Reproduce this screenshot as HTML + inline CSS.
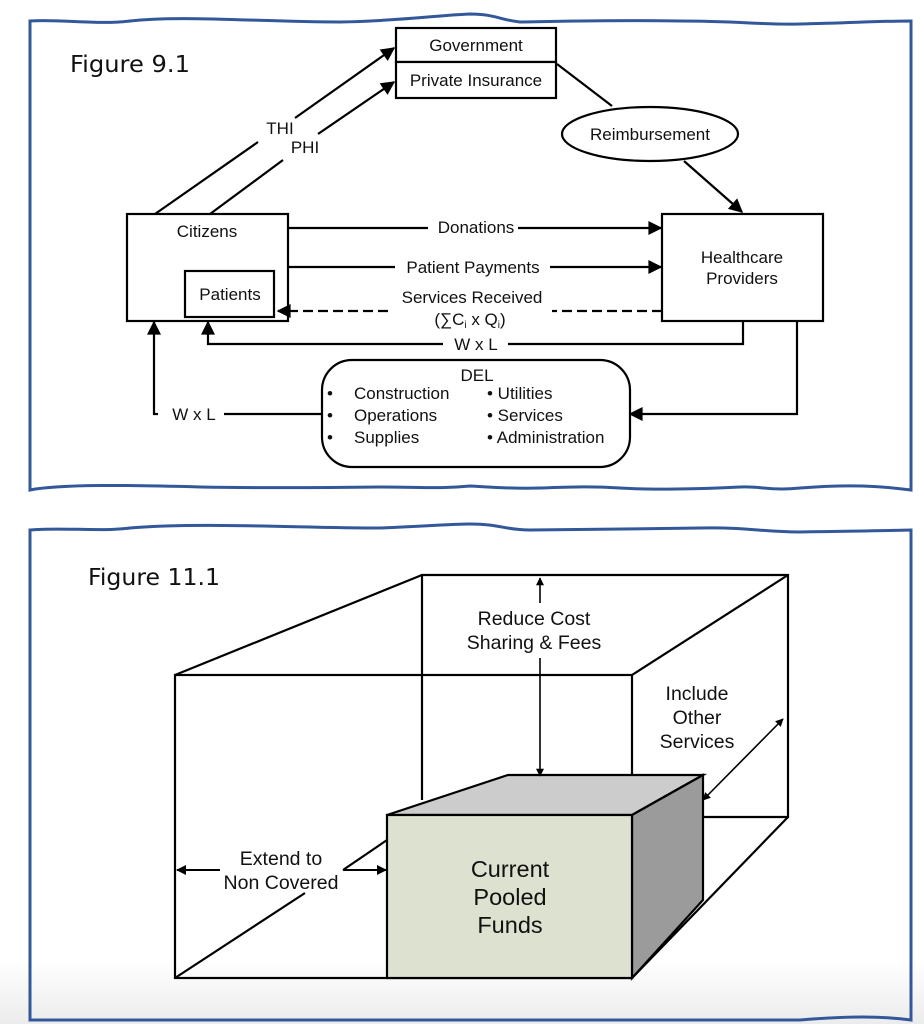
<!DOCTYPE html>
<html><head><meta charset="utf-8"><style>
html,body{margin:0;padding:0;background:#fff}
svg{display:block}
text{font-family:"Liberation Sans",sans-serif;fill:#111}
</style></head><body>
<svg width="924" height="1024" viewBox="0 0 924 1024" xmlns="http://www.w3.org/2000/svg">
<defs>
<linearGradient id="bg" x1="0" y1="0" x2="0" y2="1">
<stop offset="0" stop-color="#fff"/><stop offset="1" stop-color="#ececec"/>
</linearGradient>
<marker id="a" viewBox="0 0 10 10" refX="9" refY="5" markerWidth="10" markerHeight="10" markerUnits="userSpaceOnUse" orient="auto"><path d="M0,0 L10,5 L0,10 z" fill="#000"/></marker>
<marker id="b" viewBox="0 0 10 10" refX="9" refY="5" markerWidth="16" markerHeight="14" markerUnits="userSpaceOnUse" orient="auto"><path d="M0,0 L10,5 L0,10 z" fill="#000"/></marker>
<marker id="s" viewBox="0 0 10 10" refX="9" refY="5" markerWidth="9" markerHeight="8" markerUnits="userSpaceOnUse" orient="auto"><path d="M0,0 L10,5 L0,10 z" fill="#000"/></marker>
<marker id="sr" viewBox="0 0 10 10" refX="1" refY="5" markerWidth="9" markerHeight="8" markerUnits="userSpaceOnUse" orient="auto"><path d="M10,0 L0,5 L10,10 z" fill="#000"/></marker>
</defs>
<rect x="0" y="960" width="924" height="64" fill="url(#bg)"/>
<g fill="none" stroke="#33589a" stroke-width="3">
<path d="M30,21 C60,19 100,25 130,21 C180,15 260,22 340,22 C400,21 440,15 470,14 C495,14 500,20 520,22 C580,21 620,20 680,21 C740,21 760,25 800,24 C850,23 880,21 911,21 L911,490 C880,486 850,484 800,488 C770,491 760,486 740,487 C700,489 650,490 620,488 C590,486 570,487 540,488 C510,489 490,487 470,486 C440,489 420,487 380,487 C300,488 260,488 200,487 C130,485 60,484 30,490 Z"/>
<path d="M30,530 C60,527 100,532 130,528 C200,522 300,528 380,528 C430,526 450,524 470,524 C500,524 505,530 530,530 C600,529 640,529 700,528 C750,527 760,532 800,532 C850,531 880,531 911,530 L911,1020 C880,1016 850,1016 800,1020 L30,1020 Z"/>
</g>
<text x="70" y="72" font-size="23" textLength="120" lengthAdjust="spacingAndGlyphs" style="font-family:'DejaVu Sans','Liberation Sans',sans-serif">Figure 9.1</text>
<g stroke="#000" stroke-width="2.2" fill="#fff">
<rect x="396" y="28" width="160" height="34"/>
<rect x="396" y="62" width="160" height="36"/>
<ellipse cx="650" cy="134" rx="88" ry="27"/>
<rect x="127" y="214" width="161" height="107"/>
<rect x="185" y="271" width="89" height="46"/>
<rect x="662" y="214" width="161" height="107"/>
<rect x="322" y="360" width="308" height="107" rx="30"/>
</g>
<g stroke="#000" stroke-width="2.2" fill="none">
<line x1="557" y1="64" x2="612" y2="106"/>
<line x1="684" y1="161" x2="742" y2="212" marker-end="url(#b)"/>
<line x1="155" y1="214" x2="258" y2="142"/>
<line x1="295" y1="118" x2="394" y2="48" marker-end="url(#b)"/>
<line x1="210" y1="214" x2="283" y2="160"/>
<line x1="318" y1="134" x2="394" y2="82" marker-end="url(#b)"/>
<line x1="288" y1="228" x2="428" y2="228"/>
<line x1="518" y1="228" x2="661" y2="228" marker-end="url(#b)"/>
<line x1="288" y1="267" x2="395" y2="267"/>
<line x1="550" y1="267" x2="661" y2="267" marker-end="url(#b)"/>
<line x1="662" y1="311" x2="552" y2="311" stroke-dasharray="10,5"/>
<line x1="388" y1="311" x2="278" y2="311" stroke-dasharray="10,5" marker-end="url(#b)"/>
<polyline points="743,321 743,344 508,344"/>
<polyline points="443,344 208,344 208,322" marker-end="url(#b)"/>
<polyline points="797,321 797,414 630,414" marker-end="url(#b)"/>
<line x1="322" y1="414" x2="224" y2="414"/>
<polyline points="158,414 154,414 154,322" marker-end="url(#b)"/>
</g>
<g font-size="17" text-anchor="middle">
<text x="476" y="51">Government</text>
<text x="476" y="86">Private Insurance</text>
<text x="650" y="140">Reimbursement</text>
<text x="280" y="134">THI</text>
<text x="305" y="153">PHI</text>
<text x="207" y="237">Citizens</text>
<text x="230" y="300">Patients</text>
<text x="742" y="263">Healthcare</text>
<text x="742" y="284">Providers</text>
<text x="476" y="233">Donations</text>
<text x="473" y="273">Patient Payments</text>
<text x="472" y="303">Services Received</text>
<text x="470" y="325">(∑C<tspan font-size="10" dy="3">i</tspan><tspan dy="-3"> x Q</tspan><tspan font-size="10" dy="3">i</tspan><tspan dy="-3">)</tspan></text>
<text x="476" y="350">W x L</text>
<text x="194" y="420">W x L</text>
<text x="477" y="381">DEL</text>
</g>
<g font-size="17">
<text x="327" y="399">•</text><text x="327" y="421">•</text><text x="327" y="443">•</text>
<text x="354" y="399">Construction</text>
<text x="354" y="421">Operations</text>
<text x="354" y="443">Supplies</text>
<text x="487" y="399">• Utilities</text>
<text x="487" y="421">• Services</text>
<text x="487" y="443">• Administration</text>
</g>
<text x="88" y="585" font-size="23" textLength="132" lengthAdjust="spacingAndGlyphs" style="font-family:'DejaVu Sans','Liberation Sans',sans-serif">Figure 11.1</text>
<g stroke="#000" stroke-width="2.2" fill="none">
<polyline points="422,800 422,575 788,575 788,817 703,817"/>
<rect x="175" y="675" width="457" height="303"/>
<line x1="175" y1="675" x2="422" y2="575"/>
<line x1="632" y1="675" x2="788" y2="575"/>
<line x1="632" y1="978" x2="788" y2="817"/>
<line x1="175" y1="978" x2="305" y2="893"/>
<line x1="343" y1="870" x2="387" y2="840"/>
</g>
<g stroke="#000" stroke-width="2.2">
<polygon points="387,815 508,775 703,775 632,815" fill="#cccccc"/>
<polygon points="632,815 703,775 703,900 632,978" fill="#9b9b9b"/>
<rect x="387" y="815" width="245" height="163" fill="#dde1cf"/>
</g>
<g stroke="#000" stroke-width="1.6" fill="none">
<line x1="540" y1="603" x2="540" y2="578" marker-end="url(#s)"/>
<line x1="540" y1="658" x2="540" y2="776" marker-end="url(#s)"/>
<line x1="703" y1="800" x2="783" y2="719" marker-end="url(#s)" marker-start="url(#sr)"/>
<line x1="220" y1="870" x2="177" y2="870" stroke-width="2" marker-end="url(#a)"/>
<line x1="343" y1="870" x2="386" y2="870" stroke-width="2" marker-end="url(#a)"/>
</g>
<g font-size="19.5" text-anchor="middle">
<text x="534" y="625">Reduce Cost</text>
<text x="534" y="649">Sharing &amp; Fees</text>
<text x="697" y="700">Include</text>
<text x="697" y="724">Other</text>
<text x="697" y="748">Services</text>
<text x="281" y="865">Extend to</text>
<text x="281" y="889">Non Covered</text>
</g>
<g font-size="23.5" text-anchor="middle">
<text x="510" y="877">Current</text>
<text x="510" y="905">Pooled</text>
<text x="510" y="933">Funds</text>
</g>
</svg>
</body></html>
